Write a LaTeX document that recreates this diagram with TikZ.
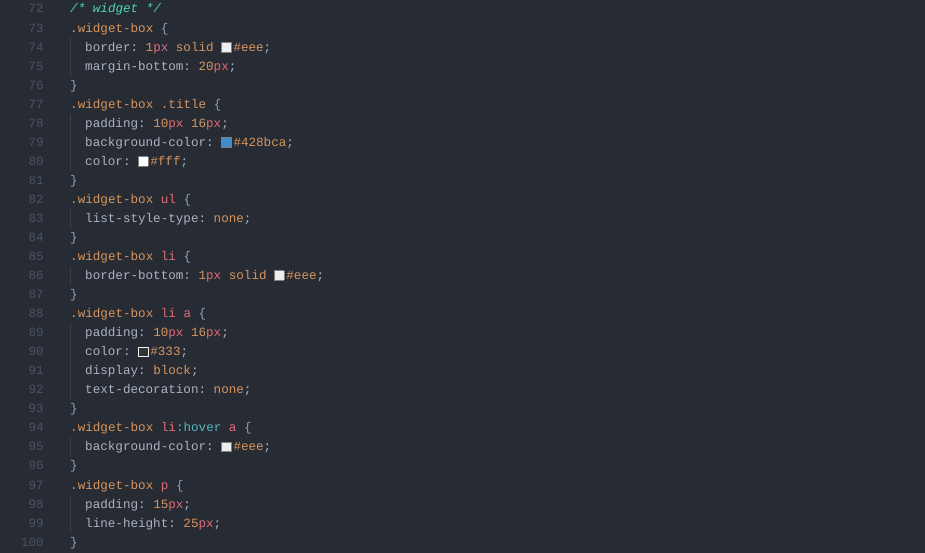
\documentclass[tikz,border=0pt]{standalone}
\usepackage{fontspec}
\setmonofont{Liberation Mono}
\definecolor{bgc}{HTML}{272B34}
\definecolor{lnum}{HTML}{4B5263}
\definecolor{selc}{HTML}{D6955E}
\definecolor{propc}{HTML}{ABB2BF}
\definecolor{pxc}{HTML}{E06C75}
\definecolor{numc}{HTML}{D6955E}
\definecolor{brc}{HTML}{8FA1BA}
\definecolor{cmc}{HTML}{4FD6AE}
\definecolor{hovc}{HTML}{56B6C2}
\definecolor{guide}{HTML}{3B4048}
\newcommand{\xSel}[1]{\textcolor{selc}{#1}}
\newcommand{\xPr}[1]{\textcolor{propc}{#1}}
\newcommand{\xN}[2]{\textcolor{numc}{#1}\textcolor{pxc}{#2}}
\newcommand{\xBr}[1]{\textcolor{brc}{#1}}
\newcommand{\xRed}[1]{\textcolor{pxc}{#1}}
\newcommand{\xSw}[2]{{\setlength\fboxsep{0pt}\setlength\fboxrule{0.6pt}\raisebox{-0.5pt}{\fcolorbox{#1}{#2}{\rule{0pt}{9pt}\rule{9pt}{0pt}}}}\hspace{2pt}}
\definecolor{eee}{HTML}{EEEEEE}
\definecolor{fff}{HTML}{FFFFFF}
\definecolor{c333}{HTML}{333333}
\definecolor{blu}{HTML}{428BCA}
\begin{document}
\begin{tikzpicture}[x=1pt,y=-1pt,
  ln/.style={anchor=base east,inner sep=0,font=\ttfamily\fontsize{12.6}{14}\selectfont,text=lnum},
  cd/.style={anchor=base west,inner sep=0,font=\ttfamily\fontsize{12.6}{14}\selectfont,text=propc}]
\fill[bgc] (0,0) rectangle (925,553);
\useasboundingbox (0,0) rectangle (925,553);
\foreach \n [count=\i from 0] in {72,...,100}{
  \node[ln] (l\n) at (44,{13+19.04*\i}) {\n};
}
% indent guides
\foreach \a/\b in {74/75,78/80,83/83,86/86,89/92,95/95,98/99}{
  \draw[guide,line width=0.8pt] (70.5,{13+19.04*(\a-72)-13}) -- (70.5,{13+19.04*(\b-72)+5});
}
\newcommand{\cl}[3]{\node[cd] (c#1) at (#2,{13+19.04*(#1-72)}) {#3};}
\cl{72}{70}{\textcolor{cmc}{\itshape /* widget */}}
\cl{73}{70}{\xSel{.widget-box} \xBr{\{}}
\cl{74}{85}{border: \xN{1}{px} \xSel{solid} \xSw{gray}{eee}\xSel{\#eee};}
\cl{75}{85}{margin-bottom: \xN{20}{px};}
\cl{76}{70}{\xBr{\}}}
\cl{77}{70}{\xSel{.widget-box .title} \xBr{\{}}
\cl{78}{85}{padding: \xN{10}{px} \xN{16}{px};}
\cl{79}{85}{background-color: \xSw{gray}{blu}\xSel{\#428bca};}
\cl{80}{85}{color: \xSw{gray}{fff}\xSel{\#fff};}
\cl{81}{70}{\xBr{\}}}
\cl{82}{70}{\xSel{.widget-box} \xRed{ul} \xBr{\{}}
\cl{83}{85}{list-style-type: \xSel{none};}
\cl{84}{70}{\xBr{\}}}
\cl{85}{70}{\xSel{.widget-box} \xRed{li} \xBr{\{}}
\cl{86}{85}{border-bottom: \xN{1}{px} \xSel{solid} \xSw{gray}{eee}\xSel{\#eee};}
\cl{87}{70}{\xBr{\}}}
\cl{88}{70}{\xSel{.widget-box} \xRed{li a} \xBr{\{}}
\cl{89}{85}{padding: \xN{10}{px} \xN{16}{px};}
\cl{90}{85}{color: \xSw{eee}{c333}\xSel{\#333};}
\cl{91}{85}{display: \xSel{block};}
\cl{92}{85}{text-decoration: \xSel{none};}
\cl{93}{70}{\xBr{\}}}
\cl{94}{70}{\xSel{.widget-box} \xRed{li}\textcolor{hovc}{:hover} \xRed{a} \xBr{\{}}
\cl{95}{85}{background-color: \xSw{gray}{eee}\xSel{\#eee};}
\cl{96}{70}{\xBr{\}}}
\cl{97}{70}{\xSel{.widget-box} \xRed{p} \xBr{\{}}
\cl{98}{85}{padding: \xN{15}{px};}
\cl{99}{85}{line-height: \xN{25}{px};}
\cl{100}{70}{\xBr{\}}}
\end{tikzpicture}
\end{document}
